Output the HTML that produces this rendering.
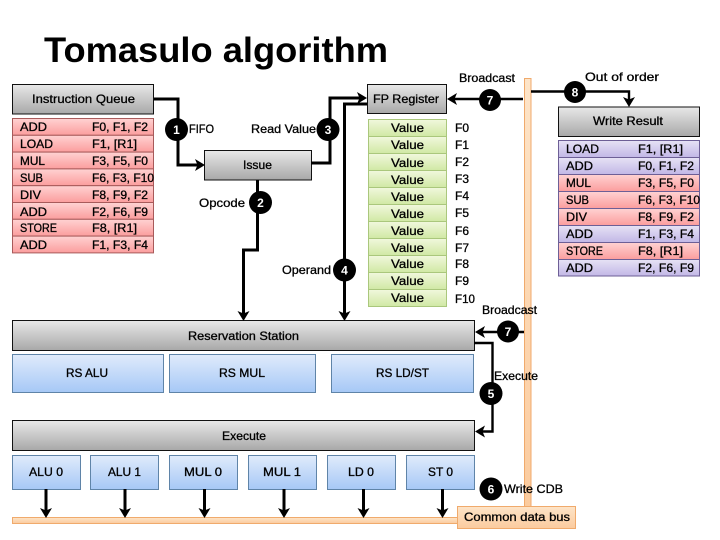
<!DOCTYPE html>
<html>
<head>
<meta charset="utf-8">
<style>
html,body{margin:0;padding:0;background:#fff;width:720px;height:540px;overflow:hidden}
svg{display:block}
text{font-family:"Liberation Sans",sans-serif;font-size:12px;fill:#000;stroke:#000;stroke-width:.3}
.t{font-size:35px;font-weight:bold;fill:#000;stroke:none}
.n{font-size:12px;font-weight:bold;fill:#fff;stroke:none;text-anchor:middle}
.gr{fill:url(#gray);stroke:#111;stroke-width:1}
.rd{fill:url(#red);stroke:#a85a5a;stroke-width:1}
.gn{fill:url(#green);stroke:#aac77c;stroke-width:1}
.pu{fill:url(#purple);stroke:#6d5f96;stroke-width:1}
.bl{fill:url(#blue);stroke:#5f84a8;stroke-width:1}
.or{fill:url(#orange);stroke:#f0aa6c;stroke-width:1}
.l{fill:none;stroke:#000;stroke-width:3}
.s{fill:none;stroke:#000;stroke-width:2.4}
.a{fill:#000;stroke:none}
</style>
</head>
<body>
<svg width="720" height="540" viewBox="0 0 720 540" xmlns="http://www.w3.org/2000/svg">
<defs>
<linearGradient id="gray" x1="0" y1="0" x2="0" y2="1"><stop offset="0" stop-color="#e8e8e8"/><stop offset="1" stop-color="#a8a8a8"/></linearGradient>
<linearGradient id="red" x1="0" y1="0" x2="0" y2="1"><stop offset="0" stop-color="#ffd2d2"/><stop offset="1" stop-color="#fb9d9d"/></linearGradient>
<linearGradient id="green" x1="0" y1="0" x2="0" y2="1"><stop offset="0" stop-color="#f1f8dd"/><stop offset="1" stop-color="#d0e8a4"/></linearGradient>
<linearGradient id="purple" x1="0" y1="0" x2="0" y2="1"><stop offset="0" stop-color="#e6e2f5"/><stop offset="1" stop-color="#c2b7e6"/></linearGradient>
<linearGradient id="blue" x1="0" y1="0" x2="0" y2="1"><stop offset="0" stop-color="#e0ebfb"/><stop offset="1" stop-color="#a6c8f6"/></linearGradient>
<linearGradient id="orange" x1="0" y1="0" x2="0" y2="1"><stop offset="0" stop-color="#fde4c8"/><stop offset="1" stop-color="#fbcb9e"/></linearGradient>
</defs>

<text class="t" x="44" y="62" textLength="344" lengthAdjust="spacingAndGlyphs">Tomasulo algorithm</text>

<!-- buses -->
<rect class="or" x="524.5" y="78.5" width="6.5" height="430"/>
<rect class="or" x="12.5" y="517.5" width="446" height="6"/>

<!-- header boxes -->
<rect class="gr" x="12.5" y="84.5" width="141" height="29.5"/>
<rect class="gr" x="204.5" y="150.5" width="107" height="29.5"/>
<rect class="gr" x="367.5" y="84.5" width="79" height="29"/>
<rect class="gr" x="558.5" y="107" width="141" height="29.5"/>
<rect class="gr" x="12.5" y="320.5" width="462" height="30"/>
<rect class="gr" x="12.5" y="420.5" width="462" height="30"/>

<!-- instruction queue rows -->
<rect class="rd" x="12.5" y="118.5" width="141" height="16.8"/>
<rect class="rd" x="12.5" y="135.3" width="141" height="16.8"/>
<rect class="rd" x="12.5" y="152.1" width="141" height="16.8"/>
<rect class="rd" x="12.5" y="168.9" width="141" height="16.8"/>
<rect class="rd" x="12.5" y="185.7" width="141" height="16.8"/>
<rect class="rd" x="12.5" y="202.5" width="141" height="16.8"/>
<rect class="rd" x="12.5" y="219.3" width="141" height="16.8"/>
<rect class="rd" x="12.5" y="236.1" width="141" height="16.8"/>

<!-- register rows -->
<rect class="gn" x="368.5" y="119.5" width="78" height="17"/>
<rect class="gn" x="368.5" y="136.5" width="78" height="17"/>
<rect class="gn" x="368.5" y="153.5" width="78" height="17"/>
<rect class="gn" x="368.5" y="170.5" width="78" height="17"/>
<rect class="gn" x="368.5" y="187.5" width="78" height="17"/>
<rect class="gn" x="368.5" y="204.5" width="78" height="17"/>
<rect class="gn" x="368.5" y="221.5" width="78" height="17"/>
<rect class="gn" x="368.5" y="238.5" width="78" height="17"/>
<rect class="gn" x="368.5" y="255.5" width="78" height="17"/>
<rect class="gn" x="368.5" y="272.5" width="78" height="17"/>
<rect class="gn" x="368.5" y="289.5" width="78" height="17"/>

<!-- write result rows -->
<rect class="pu" x="558.5" y="140.5" width="141" height="17"/>
<rect class="pu" x="558.5" y="157.5" width="141" height="17"/>
<rect class="rd" x="558.5" y="174.5" width="141" height="17" style="stroke:#6d5f96"/>
<rect class="rd" x="558.5" y="191.5" width="141" height="17" style="stroke:#6d5f96"/>
<rect class="rd" x="558.5" y="208.5" width="141" height="17" style="stroke:#6d5f96"/>
<rect class="pu" x="558.5" y="225.5" width="141" height="17"/>
<rect class="rd" x="558.5" y="242.5" width="141" height="17" style="stroke:#6d5f96"/>
<rect class="pu" x="558.5" y="259.5" width="141" height="16.5"/>

<!-- reservation & execution units -->
<rect class="bl" x="12.5" y="354.5" width="151" height="38"/>
<rect class="bl" x="169.5" y="354.5" width="146" height="38"/>
<rect class="bl" x="331.5" y="354.5" width="142" height="38"/>
<rect class="bl" x="12.5" y="455.5" width="68" height="34"/>
<rect class="bl" x="90.5" y="455.5" width="68" height="34"/>
<rect class="bl" x="169.5" y="455.5" width="68" height="34"/>
<rect class="bl" x="248.5" y="455.5" width="68" height="34"/>
<rect class="bl" x="327.5" y="455.5" width="68" height="34"/>
<rect class="bl" x="406.5" y="455.5" width="68" height="34"/>
<rect class="or" x="457.5" y="506.5" width="118" height="22"/>

<!-- connectors -->
<path class="l" d="M154 99H178V165H198"/>
<path class="a" d="M205 165L195 159L197.500 165L195 171Z"/>
<path class="l" d="M311 163H330V98H360"/>
<path class="a" d="M367 98L357 92L359.500 98L357 104Z"/>
<path class="l" d="M367 104H344.500V314"/>
<path class="a" d="M344.500 321L338.500 311L344.500 313.500L350.500 311Z"/>
<path class="l" d="M257.500 180V250H243.500V314"/>
<path class="a" d="M243.500 321L237.500 311L243.500 313.500L249.500 311Z"/>
<path class="s" d="M523 99H454"/>
<path class="a" d="M447 99L457 93L454.500 99L457 105Z"/>
<path class="s" d="M531 91.500H629V100"/>
<path class="a" d="M629 107L623 97L629 99.500L635 97Z"/>
<path class="s" d="M524 332H482"/>
<path class="a" d="M475 332L485 326L482.500 332L485 338Z"/>
<path class="s" d="M474 343H492.500V431.500H482"/>
<path class="a" d="M475 431.500L485 425.500L482.500 431.500L485 437.500Z"/>
<path class="l" d="M46 489V511"/><path class="a" d="M46 518L40 508L46 510.500L52 508Z"/>
<path class="l" d="M125 489V511"/><path class="a" d="M125 518L119 508L125 510.500L131 508Z"/>
<path class="l" d="M204.500 489V511"/><path class="a" d="M204.500 518L198.500 508L204.500 510.500L210.500 508Z"/>
<path class="l" d="M284 489V511"/><path class="a" d="M284 518L278 508L284 510.500L290 508Z"/>
<path class="l" d="M363.500 489V511"/><path class="a" d="M363.500 518L357.500 508L363.500 510.500L369.500 508Z"/>
<path class="l" d="M442.500 489V511"/><path class="a" d="M442.500 518L436.500 508L442.500 510.500L448.500 508Z"/>

<!-- numbered circles -->
<circle cx="176.500" cy="129.500" r="11.500" fill="#000"/><text class="n" x="176.500" y="134">1</text>
<circle cx="260.500" cy="202.500" r="11.500" fill="#000"/><text class="n" x="260.500" y="207">2</text>
<circle cx="328" cy="129.500" r="11.500" fill="#000"/><text class="n" x="328" y="134">3</text>
<circle cx="344.500" cy="270" r="11.500" fill="#000"/><text class="n" x="344.500" y="274.500">4</text>
<circle cx="491" cy="393.500" r="11.500" fill="#000"/><text class="n" x="491" y="398">5</text>
<circle cx="491" cy="489" r="11.500" fill="#000"/><text class="n" x="491" y="493.500">6</text>
<circle cx="490" cy="100" r="11" fill="#000"/><text class="n" x="490" y="104.500">7</text>
<circle cx="508" cy="331.500" r="11" fill="#000"/><text class="n" x="508" y="336">7</text>
<circle cx="575" cy="92" r="11" fill="#000"/><text class="n" x="575" y="96.500">8</text>

<!-- labels -->
<text x="32" y="103" textLength="103" lengthAdjust="spacingAndGlyphs">Instruction Queue</text>
<text x="373" y="103" textLength="66" lengthAdjust="spacingAndGlyphs">FP Register</text>
<text x="243" y="169" textLength="29" lengthAdjust="spacingAndGlyphs">Issue</text>
<text x="189" y="133" textLength="25" lengthAdjust="spacingAndGlyphs">FIFO</text>
<text x="251" y="133" textLength="65" lengthAdjust="spacingAndGlyphs">Read Value</text>
<text x="199" y="207" textLength="46" lengthAdjust="spacingAndGlyphs">Opcode</text>
<text x="282" y="274" textLength="49" lengthAdjust="spacingAndGlyphs">Operand</text>
<text x="459" y="82" textLength="56" lengthAdjust="spacingAndGlyphs">Broadcast</text>
<text x="585" y="81" textLength="74" lengthAdjust="spacingAndGlyphs">Out of order</text>
<text x="593" y="125" textLength="70" lengthAdjust="spacingAndGlyphs">Write Result</text>
<text x="482" y="314" textLength="55" lengthAdjust="spacingAndGlyphs">Broadcast</text>
<text x="494" y="380" textLength="44" lengthAdjust="spacingAndGlyphs">Execute</text>
<text x="504" y="493" textLength="59" lengthAdjust="spacingAndGlyphs">Write CDB</text>
<text x="464" y="521" textLength="106" lengthAdjust="spacingAndGlyphs">Common data bus</text>
<text x="188" y="340" textLength="111" lengthAdjust="spacingAndGlyphs">Reservation Station</text>
<text x="66" y="377" textLength="42" lengthAdjust="spacingAndGlyphs">RS ALU</text>
<text x="219" y="377" textLength="46" lengthAdjust="spacingAndGlyphs">RS MUL</text>
<text x="376" y="377" textLength="53" lengthAdjust="spacingAndGlyphs">RS LD/ST</text>
<text x="222" y="440" textLength="44" lengthAdjust="spacingAndGlyphs">Execute</text>
<text x="29" y="476" textLength="34" lengthAdjust="spacingAndGlyphs">ALU 0</text>
<text x="108" y="476" textLength="33" lengthAdjust="spacingAndGlyphs">ALU 1</text>
<text x="184" y="476" textLength="38" lengthAdjust="spacingAndGlyphs">MUL 0</text>
<text x="263" y="476" textLength="38" lengthAdjust="spacingAndGlyphs">MUL 1</text>
<text x="348" y="476" textLength="26" lengthAdjust="spacingAndGlyphs">LD 0</text>
<text x="428" y="476" textLength="25" lengthAdjust="spacingAndGlyphs">ST 0</text>

<!-- instruction queue text -->
<text x="20" y="131" textLength="27" lengthAdjust="spacingAndGlyphs">ADD</text><text x="92" y="131" textLength="56" lengthAdjust="spacingAndGlyphs">F0, F1, F2</text>
<text x="20" y="148" textLength="33" lengthAdjust="spacingAndGlyphs">LOAD</text><text x="92" y="148" textLength="45" lengthAdjust="spacingAndGlyphs">F1, [R1]</text>
<text x="20" y="165" textLength="25" lengthAdjust="spacingAndGlyphs">MUL</text><text x="92" y="165" textLength="56" lengthAdjust="spacingAndGlyphs">F3, F5, F0</text>
<text x="20" y="182" textLength="23" lengthAdjust="spacingAndGlyphs">SUB</text><text x="92" y="182" textLength="62" lengthAdjust="spacingAndGlyphs">F6, F3, F10</text>
<text x="20" y="199" textLength="21" lengthAdjust="spacingAndGlyphs">DIV</text><text x="92" y="199" textLength="56" lengthAdjust="spacingAndGlyphs">F8, F9, F2</text>
<text x="20" y="216" textLength="27" lengthAdjust="spacingAndGlyphs">ADD</text><text x="92" y="216" textLength="56" lengthAdjust="spacingAndGlyphs">F2, F6, F9</text>
<text x="20" y="232" textLength="37" lengthAdjust="spacingAndGlyphs">STORE</text><text x="92" y="232" textLength="45" lengthAdjust="spacingAndGlyphs">F8, [R1]</text>
<text x="20" y="249" textLength="27" lengthAdjust="spacingAndGlyphs">ADD</text><text x="92" y="249" textLength="56" lengthAdjust="spacingAndGlyphs">F1, F3, F4</text>

<!-- register text -->
<text x="391" y="132" textLength="33" lengthAdjust="spacingAndGlyphs">Value</text><text x="455" y="132">F0</text>
<text x="391" y="149" textLength="33" lengthAdjust="spacingAndGlyphs">Value</text><text x="455" y="149">F1</text>
<text x="391" y="167" textLength="33" lengthAdjust="spacingAndGlyphs">Value</text><text x="455" y="166">F2</text>
<text x="391" y="184" textLength="33" lengthAdjust="spacingAndGlyphs">Value</text><text x="455" y="183">F3</text>
<text x="391" y="201" textLength="33" lengthAdjust="spacingAndGlyphs">Value</text><text x="455" y="200">F4</text>
<text x="391" y="218" textLength="33" lengthAdjust="spacingAndGlyphs">Value</text><text x="455" y="217">F5</text>
<text x="391" y="235" textLength="33" lengthAdjust="spacingAndGlyphs">Value</text><text x="455" y="235">F6</text>
<text x="391" y="252" textLength="33" lengthAdjust="spacingAndGlyphs">Value</text><text x="455" y="252">F7</text>
<text x="391" y="268" textLength="33" lengthAdjust="spacingAndGlyphs">Value</text><text x="455" y="268">F8</text>
<text x="391" y="285" textLength="33" lengthAdjust="spacingAndGlyphs">Value</text><text x="455" y="285">F9</text>
<text x="391" y="302" textLength="33" lengthAdjust="spacingAndGlyphs">Value</text><text x="455" y="303" textLength="20" lengthAdjust="spacingAndGlyphs">F10</text>

<!-- write result text -->
<text x="566" y="153" textLength="33" lengthAdjust="spacingAndGlyphs">LOAD</text><text x="638" y="153" textLength="45" lengthAdjust="spacingAndGlyphs">F1, [R1]</text>
<text x="566" y="170" textLength="27" lengthAdjust="spacingAndGlyphs">ADD</text><text x="638" y="170" textLength="56" lengthAdjust="spacingAndGlyphs">F0, F1, F2</text>
<text x="566" y="187" textLength="25" lengthAdjust="spacingAndGlyphs">MUL</text><text x="638" y="187" textLength="56" lengthAdjust="spacingAndGlyphs">F3, F5, F0</text>
<text x="566" y="204" textLength="23" lengthAdjust="spacingAndGlyphs">SUB</text><text x="638" y="204" textLength="62" lengthAdjust="spacingAndGlyphs">F6, F3, F10</text>
<text x="566" y="221" textLength="21" lengthAdjust="spacingAndGlyphs">DIV</text><text x="638" y="221" textLength="56" lengthAdjust="spacingAndGlyphs">F8, F9, F2</text>
<text x="566" y="238" textLength="27" lengthAdjust="spacingAndGlyphs">ADD</text><text x="638" y="238" textLength="56" lengthAdjust="spacingAndGlyphs">F1, F3, F4</text>
<text x="566" y="255" textLength="37" lengthAdjust="spacingAndGlyphs">STORE</text><text x="638" y="255" textLength="45" lengthAdjust="spacingAndGlyphs">F8, [R1]</text>
<text x="566" y="272" textLength="27" lengthAdjust="spacingAndGlyphs">ADD</text><text x="638" y="272" textLength="56" lengthAdjust="spacingAndGlyphs">F2, F6, F9</text>
</svg>
</body>
</html>
